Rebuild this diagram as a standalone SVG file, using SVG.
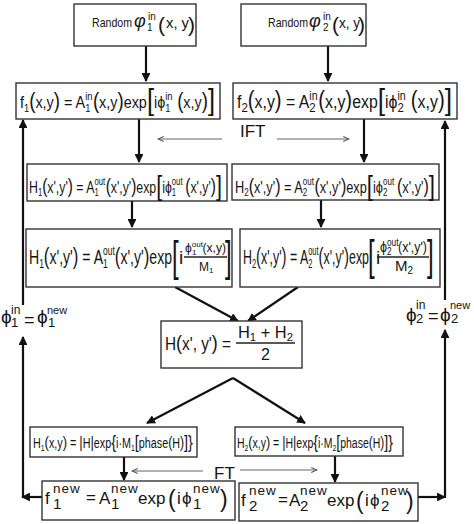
<svg xmlns="http://www.w3.org/2000/svg" width="474" height="524" viewBox="0 0 474 524">
<style>
text{font-family:"Liberation Sans",Arial,"DejaVu Sans",sans-serif;fill:#141414}
.b{fill:#fff;stroke:#333;stroke-width:1.4}
.c{stroke:#111;stroke-width:2.2;fill:none}
.g{stroke:#666;stroke-width:1.2;fill:none}
.fl{stroke:#222;stroke-width:1.3}
</style>
<defs>
<marker id="ah" viewBox="0 0 10 10" refX="9" refY="5" markerWidth="4" markerHeight="4" orient="auto"><path d="M0,0L10,5L0,10z" fill="#111"/></marker>
<marker id="oh" viewBox="0 0 10 10" refX="9" refY="5" markerWidth="6" markerHeight="6" orient="auto"><path d="M1,1.5L9,5L1,8.5" fill="none" stroke="#555" stroke-width="1.4"/></marker>
</defs>
<rect width="474" height="524" fill="#fff"/>

<g id="connectors">
<line class="c" x1="146" y1="46" x2="146" y2="81" marker-end="url(#ah)"/>
<line class="c" x1="328" y1="46" x2="328" y2="81" marker-end="url(#ah)"/>
<line class="c" x1="139" y1="119" x2="139" y2="162" marker-end="url(#ah)"/>
<line class="c" x1="364" y1="119" x2="364" y2="162" marker-end="url(#ah)"/>
<line class="c" x1="132" y1="201" x2="132" y2="227" marker-end="url(#ah)"/>
<line class="c" x1="321" y1="200" x2="321" y2="227" marker-end="url(#ah)"/>
<line class="c" x1="175" y1="287" x2="238" y2="321" marker-end="url(#ah)"/>
<line class="c" x1="298" y1="287" x2="248" y2="321" marker-end="url(#ah)"/>
<line class="c" x1="233" y1="378" x2="147" y2="423" marker-end="url(#ah)"/>
<line class="c" x1="233" y1="378" x2="305" y2="423" marker-end="url(#ah)"/>
<line class="c" x1="124" y1="457" x2="124" y2="480" marker-end="url(#ah)"/>
<line class="c" x1="335" y1="456" x2="335" y2="482" marker-end="url(#ah)"/>
<line class="c" x1="42" y1="497" x2="22" y2="497" marker-end="url(#ah)"/>
<line class="c" x1="23" y1="497" x2="23" y2="337" marker-end="url(#ah)"/>
<line class="c" x1="23" y1="305" x2="23" y2="120" marker-end="url(#ah)"/>
<line class="c" x1="418" y1="497" x2="445" y2="497" marker-end="url(#ah)"/>
<line class="c" x1="445" y1="498" x2="445" y2="330" marker-end="url(#ah)"/>
<line class="c" x1="445" y1="300" x2="445" y2="121" marker-end="url(#ah)"/>
<line class="g" x1="222" y1="139" x2="158" y2="139" marker-end="url(#oh)"/>
<line class="g" x1="277" y1="139" x2="349" y2="139" marker-end="url(#oh)"/>
<line class="g" x1="203" y1="471" x2="132" y2="471" marker-end="url(#oh)"/>
<line class="g" x1="240" y1="470" x2="317" y2="470" marker-end="url(#oh)"/>
<text x="240" y="137" font-size="17">IFT</text>
<text x="214" y="479" font-size="17">FT</text>
<text font-size="19"><tspan x="1" y="323">ϕ</tspan><tspan x="11" y="314" font-size="12">in</tspan><tspan x="11" y="327" font-size="13">1</tspan><tspan x="24" y="326" font-size="18">=</tspan><tspan x="37" y="323">ϕ</tspan><tspan x="47" y="314" font-size="11">new</tspan><tspan x="48" y="327" font-size="13">1</tspan></text>
<text font-size="19"><tspan x="406" y="321">ϕ</tspan><tspan x="416" y="309" font-size="12">in</tspan><tspan x="416" y="323" font-size="13">2</tspan><tspan x="428" y="322" font-size="18">=</tspan><tspan x="440" y="321">ϕ</tspan><tspan x="450" y="309" font-size="11">new</tspan><tspan x="451" y="323" font-size="13">2</tspan></text>
</g>

<g id="rand1">
<rect class="b" x="74" y="4" width="122" height="42"/>
<text x="92" y="27" font-size="13.5" textLength="40" lengthAdjust="spacingAndGlyphs">Random</text>
<text x="134" y="27" font-size="18" font-style="italic">φ</text>
<text x="148" y="20" font-size="10">in</text>
<text x="147" y="31" font-size="10">1</text>
<text x="158" y="32" font-size="21">(</text>
<text x="166" y="28" font-size="15" textLength="23" lengthAdjust="spacingAndGlyphs">x, y</text>
<text x="188" y="32" font-size="21">)</text>
</g>

<g id="rand2">
<rect class="b" x="241" y="4" width="125" height="42"/>
<text x="268" y="27" font-size="13.5" textLength="40" lengthAdjust="spacingAndGlyphs">Random</text>
<text x="309" y="27" font-size="18" font-style="italic">φ</text>
<text x="323" y="20" font-size="10">in</text>
<text x="323" y="31" font-size="10">2</text>
<text x="332" y="32" font-size="21">(</text>
<text x="339" y="28" font-size="15" textLength="21" lengthAdjust="spacingAndGlyphs">x, y</text>
<text x="358" y="32" font-size="21">)</text>
</g>

<g id="f1">
<rect class="b" x="16" y="83" width="204" height="36"/>
<text x="20" y="108" font-size="17" textLength="195" lengthAdjust="spacingAndGlyphs">f<tspan font-size="11" dy="4">1</tspan><tspan font-size="22" dy="-4">(</tspan>x,y<tspan font-size="22">)</tspan> = A<tspan font-size="11" dy="-8">in</tspan><tspan font-size="11" dx="-8.6" dy="12">1</tspan><tspan font-size="22" dx="3" dy="-4">(</tspan>x,y<tspan font-size="22">)</tspan>exp<tspan font-size="30" dy="2">[</tspan><tspan dy="-2">iϕ</tspan><tspan font-size="11" dy="-8">in</tspan><tspan font-size="11" dx="-8.6" dy="12">1</tspan><tspan font-size="22" dx="8" dy="-4">(</tspan>x,y<tspan font-size="22">)</tspan><tspan font-size="30" dy="2">]</tspan></text>
</g>

<g id="f2">
<rect class="b" x="233" y="83" width="224" height="36"/>
<text x="237" y="108" font-size="18" textLength="215" lengthAdjust="spacingAndGlyphs">f<tspan font-size="13" dy="4">2</tspan><tspan font-size="23" dy="-4">(</tspan>x,y<tspan font-size="23">)</tspan> = A<tspan font-size="12" dy="-8">in</tspan><tspan font-size="13" dx="-9.4" dy="12">2</tspan><tspan font-size="23" dx="3" dy="-4">(</tspan>x,y<tspan font-size="23">)</tspan>exp<tspan font-size="30" dy="2">[</tspan><tspan dy="-2">iϕ</tspan><tspan font-size="12" dy="-8">in</tspan><tspan font-size="13" dx="-9.4" dy="12">2</tspan><tspan font-size="23" dx="8" dy="-4">(</tspan>x,y<tspan font-size="23">)</tspan><tspan font-size="30" dy="2">]</tspan></text>
</g>

<g id="h1a">
<rect class="b" x="27" y="164" width="200" height="37"/>
<text x="29" y="193" font-size="16" textLength="193" lengthAdjust="spacingAndGlyphs">H<tspan font-size="10" dy="3">1</tspan><tspan font-size="20" dy="-3">(</tspan>x',y'<tspan font-size="20">)</tspan> = A<tspan font-size="10" dy="-8">out</tspan><tspan font-size="10" dx="-14" dy="11">1</tspan><tspan font-size="20" dx="9" dy="-3">(</tspan>x',y'<tspan font-size="20">)</tspan>exp<tspan font-size="28" dy="2">[</tspan><tspan dy="-2">iϕ</tspan><tspan font-size="10" dy="-8">out</tspan><tspan font-size="10" dx="-14" dy="11">1</tspan><tspan font-size="20" dx="12" dy="-3">(</tspan>x',y'<tspan font-size="20">)</tspan><tspan font-size="28" dy="2">]</tspan></text>
</g>

<g id="h2a">
<rect class="b" x="232" y="164" width="207" height="36"/>
<text x="235" y="193" font-size="16" textLength="200" lengthAdjust="spacingAndGlyphs">H<tspan font-size="10" dy="3">2</tspan><tspan font-size="20" dy="-3">(</tspan>x',y'<tspan font-size="20">)</tspan> = A<tspan font-size="10" dy="-8">out</tspan><tspan font-size="10" dx="-14" dy="11">2</tspan><tspan font-size="20" dx="9" dy="-3">(</tspan>x',y'<tspan font-size="20">)</tspan>exp<tspan font-size="28" dy="2">[</tspan><tspan dy="-2">iϕ</tspan><tspan font-size="10" dy="-8">out</tspan><tspan font-size="10" dx="-14" dy="11">2</tspan><tspan font-size="20" dx="12" dy="-3">(</tspan>x',y'<tspan font-size="20">)</tspan><tspan font-size="28" dy="2">]</tspan></text>
</g>

<g id="h1b">
<rect class="b" x="26" y="229" width="206" height="58"/>
<text x="29" y="264" font-size="20" textLength="143" lengthAdjust="spacingAndGlyphs">H<tspan font-size="12" dy="4">1</tspan><tspan font-size="24" dy="-4">(</tspan>x',y'<tspan font-size="24">)</tspan> = A<tspan font-size="12" dy="-9">out</tspan><tspan font-size="12" dx="-16.7" dy="13">1</tspan><tspan font-size="24" dx="10" dy="-4">(</tspan>x',y'<tspan font-size="24">)</tspan>exp</text>
<text transform="translate(172,271) scale(1,1.8)" font-size="24">[</text>
<text x="179" y="264" font-size="19">i</text>
<text x="185" y="252" font-size="12" textLength="41" lengthAdjust="spacingAndGlyphs">ϕ<tspan font-size="8" dy="-5">out</tspan><tspan font-size="8" dx="-11" dy="8">1</tspan><tspan dx="6" dy="-3">(x,y)</tspan></text>
<line class="fl" x1="184" y1="257" x2="227" y2="257"/>
<text x="199" y="271" font-size="12">M<tspan font-size="8" dy="2">1</tspan></text>
<text transform="translate(225,271) scale(1,1.8)" font-size="24">]</text>
</g>

<g id="h2b">
<rect class="b" x="240" y="229" width="200" height="58"/>
<text x="243" y="264" font-size="20" textLength="126" lengthAdjust="spacingAndGlyphs">H<tspan font-size="12" dy="4">2</tspan><tspan font-size="24" dy="-4">(</tspan>x',y'<tspan font-size="24">)</tspan> = A<tspan font-size="12" dy="-9">out</tspan><tspan font-size="12" dx="-16.7" dy="13">2</tspan><tspan font-size="24" dx="10" dy="-4">(</tspan>x',y'<tspan font-size="24">)</tspan>exp</text>
<text transform="translate(368,270) scale(1,1.75)" font-size="24">[</text>
<text x="376" y="264" font-size="19">i</text>
<text x="380" y="252" font-size="15" textLength="47" lengthAdjust="spacingAndGlyphs">ϕ<tspan font-size="10" dy="-6">out</tspan><tspan font-size="10" dx="-14" dy="9">2</tspan><tspan dx="8" dy="-3">(x',y')</tspan></text>
<line class="fl" x1="377" y1="257" x2="429" y2="257"/>
<text x="395" y="271" font-size="15">M<tspan font-size="10" dy="3">2</tspan></text>
<text transform="translate(427,270) scale(1,1.75)" font-size="24">]</text>
</g>

<g id="hsum">
<rect class="b" x="161" y="321" width="141" height="47"/>
<text x="165" y="350" font-size="18" textLength="66" lengthAdjust="spacingAndGlyphs">H<tspan font-size="21">(</tspan>x', y'<tspan font-size="21">)</tspan> =</text>
<text x="238" y="338" font-size="16" textLength="55" lengthAdjust="spacingAndGlyphs">H<tspan font-size="11" dy="3">1</tspan><tspan dy="-3"> + H</tspan><tspan font-size="11" dy="3">2</tspan></text>
<line class="fl" x1="236" y1="343" x2="295" y2="343"/>
<text x="261" y="360" font-size="16">2</text>
</g>

<g id="hn1">
<rect class="b" x="30" y="427" width="167" height="30"/>
<text x="33" y="448" font-size="14" textLength="160" lengthAdjust="spacingAndGlyphs">H<tspan font-size="9" dy="3">1</tspan><tspan font-size="17" dy="-3">(</tspan>x,y<tspan font-size="17">)</tspan> = <tspan font-size="17">|</tspan>H<tspan font-size="17">|</tspan>exp<tspan font-size="19">{</tspan>i·M<tspan font-size="9" dy="3">1</tspan><tspan font-size="19" dy="-3">[</tspan>phase<tspan font-size="16">(</tspan>H<tspan font-size="16">)</tspan><tspan font-size="19">]</tspan><tspan font-size="19">}</tspan></text>
</g>

<g id="hn2">
<rect class="b" x="235" y="427" width="168" height="29"/>
<text x="237" y="448" font-size="14" textLength="156" lengthAdjust="spacingAndGlyphs">H<tspan font-size="9" dy="3">2</tspan><tspan font-size="17" dy="-3">(</tspan>x,y<tspan font-size="17">)</tspan> = <tspan font-size="17">|</tspan>H<tspan font-size="17">|</tspan>exp<tspan font-size="19">{</tspan>i·M<tspan font-size="9" dy="3">2</tspan><tspan font-size="19" dy="-3">[</tspan>phase<tspan font-size="16">(</tspan>H<tspan font-size="16">)</tspan><tspan font-size="19">]</tspan><tspan font-size="19">}</tspan></text>
</g>

<g id="fnew1">
<rect class="b" x="42" y="481" width="193" height="39"/>
<text font-size="17"><tspan x="45" y="504">f</tspan><tspan x="53" y="493" font-size="13.5" letter-spacing="1">new</tspan><tspan x="53" y="509" font-size="15">1</tspan><tspan x="86" y="503">=</tspan><tspan x="99" y="504">A</tspan><tspan x="111" y="493" font-size="13.5" letter-spacing="1">new</tspan><tspan x="111" y="509" font-size="15">1</tspan><tspan x="138" y="504">exp</tspan><tspan x="168" y="507" font-size="23">(</tspan><tspan x="177" y="504">i</tspan><tspan x="182" y="504">ϕ</tspan><tspan x="193" y="493" font-size="13.5" letter-spacing="1">new</tspan><tspan x="193" y="509" font-size="15">1</tspan><tspan x="220" y="507" font-size="23">)</tspan></text>
</g>

<g id="fnew2">
<rect class="b" x="239" y="483" width="179" height="38"/>
<text font-size="17"><tspan x="241" y="506">f</tspan><tspan x="249" y="495" font-size="13.5" letter-spacing="1">new</tspan><tspan x="249" y="511" font-size="15">2</tspan><tspan x="278" y="505">=</tspan><tspan x="289" y="506">A</tspan><tspan x="300" y="495" font-size="13.5" letter-spacing="1">new</tspan><tspan x="300" y="511" font-size="15">2</tspan><tspan x="327" y="506">exp</tspan><tspan x="356" y="509" font-size="23">(</tspan><tspan x="365" y="506">i</tspan><tspan x="370" y="506">ϕ</tspan><tspan x="381" y="495" font-size="13.5" letter-spacing="1">new</tspan><tspan x="381" y="511" font-size="15">2</tspan><tspan x="406" y="509" font-size="23">)</tspan></text>
</g>
</svg>
